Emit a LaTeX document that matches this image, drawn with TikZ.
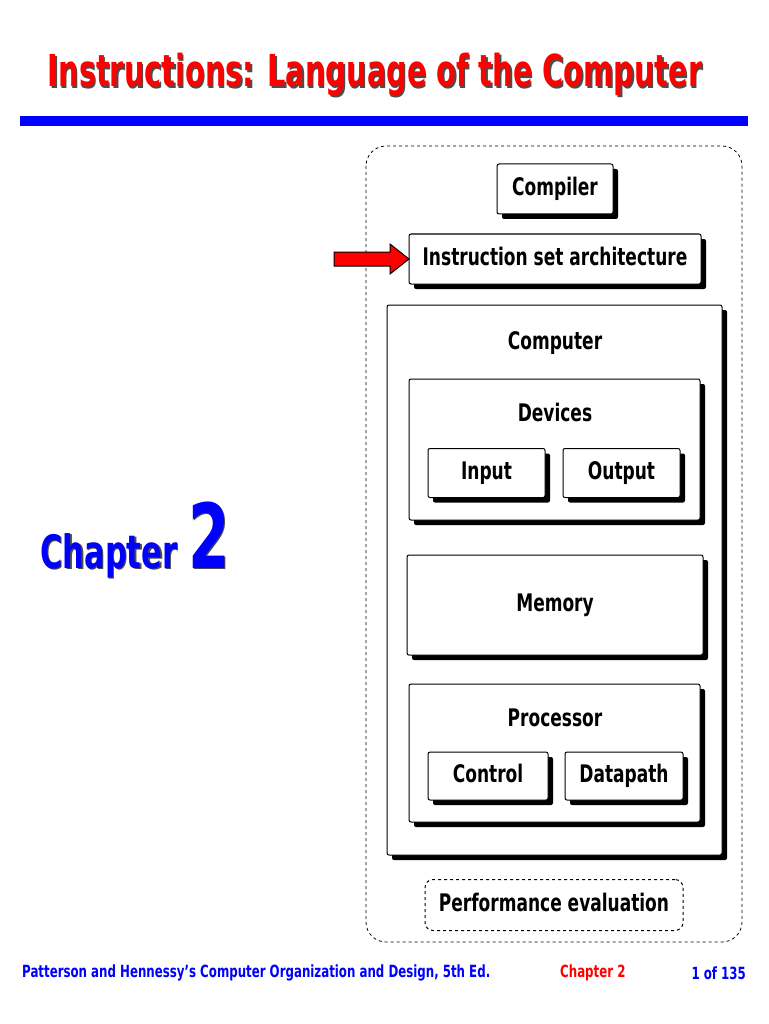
\documentclass[tikz,border=0pt]{standalone}
\usepackage{fontspec}
\usepackage{graphicx}
\setmainfont{DejaVu Sans Condensed}
\usetikzlibrary{shadows,arrows.meta}
\newcommand\nrw[1]{\scalebox{0.86}[1.1]{#1}}
\begin{document}
\begin{tikzpicture}[x=1pt,y=-1pt,
  box/.style={draw=black,line width=1pt,fill=white,rounded corners=2pt,
    drop shadow={shadow xshift=5pt,shadow yshift=-5pt,fill=black,opacity=1}},
  lbl/.style={font=\bfseries\fontsize{22}{24}\selectfont,inner sep=0pt,text height=16pt,text depth=3pt},
  ftr/.style={font=\bfseries\fontsize{16}{18}\selectfont,inner sep=0}]
\useasboundingbox (0,0) rectangle (768,1024);
% title
\node[font=\bfseries\fontsize{40}{44}\selectfont,text=black!70,inner sep=0] at (376.5,76.5) {\scalebox{0.8}[1.1]{Instructions: Language of the Computer}};
\node[font=\bfseries\fontsize{40}{44}\selectfont,text=red,inner sep=0] (title) at (375,75) {\scalebox{0.8}[1.1]{Instructions: Language of the Computer}};
\fill[blue] (20,116) rectangle (748,126);
% outer dashed
\draw[dashed,rounded corners=20pt,line width=0.8pt] (366,146) rectangle (742,942);
% compiler
\node[box,minimum width=116pt,minimum height=50pt,lbl] (comp) at (555,189) {\nrw{Compiler}};
\node[box,minimum width=292pt,minimum height=50pt,lbl] (isa) at (555,259) {\nrw{Instruction set architecture}};
% arrow
\draw[draw=black,fill=red,line width=1pt] (334,252)--(390,252)--(390,244)--(409,259)--(390,274)--(390,266)--(334,266)--cycle;
% computer
\node[box,minimum width=335pt,minimum height=550pt] (computer) at (554.5,580) {};
\node[lbl] at (555,343) {\nrw{Computer}};
\node[box,minimum width=291pt,minimum height=141pt] (dev) at (554.5,449.5) {};
\node[lbl] at (555,415) {\nrw{Devices}};
\node[box,minimum width=117pt,minimum height=49pt,lbl] (in) at (486.5,473) {\nrw{Input}};
\node[box,minimum width=117pt,minimum height=49pt,lbl] (out) at (621.5,473) {\nrw{Output}};
\node[box,minimum width=296pt,minimum height=100pt,lbl] (mem) at (555,605) {\nrw{Memory}};
\node[box,minimum width=291pt,minimum height=138pt] (proc) at (554.5,753) {};
\node[lbl] at (555,720) {\nrw{Processor}};
\node[box,minimum width=120pt,minimum height=48pt,lbl] (ctl) at (488,776) {\nrw{Control}};
\node[box,minimum width=118pt,minimum height=48pt,lbl] (dp) at (624,776) {\nrw{Datapath}};
% performance
\node[draw,dashed,rounded corners=8pt,minimum width=258pt,minimum height=51pt,lbl,line width=1pt] (perf) at (554,905) {\nrw{Performance evaluation}};
% chapter
\node[text=black!70,inner sep=0,anchor=base west] at (41.5,569.5) {\scalebox{0.85}[1.15]{\bfseries\fontsize{40}{40}\selectfont Chapter \fontsize{78}{78}\selectfont 2}};
\node[text=blue,inner sep=0,anchor=base west] (chap) at (40,568) {\scalebox{0.85}[1.15]{\bfseries\fontsize{40}{40}\selectfont Chapter \fontsize{78}{78}\selectfont 2}};
% footer
\node[text=blue,ftr,anchor=west] (f1) at (22,973) {\scalebox{0.82}[1.05]{Patterson and Hennessy’s Computer Organization and Design, 5th Ed.}};
\node[text=red,ftr,anchor=west] (f2) at (560,973) {\scalebox{0.82}[1.05]{Chapter 2}};
\node[text=blue,ftr,anchor=east] (f3) at (746,973) {\scalebox{0.82}[1.05]{1 of 135}};
\end{tikzpicture}
\end{document}
